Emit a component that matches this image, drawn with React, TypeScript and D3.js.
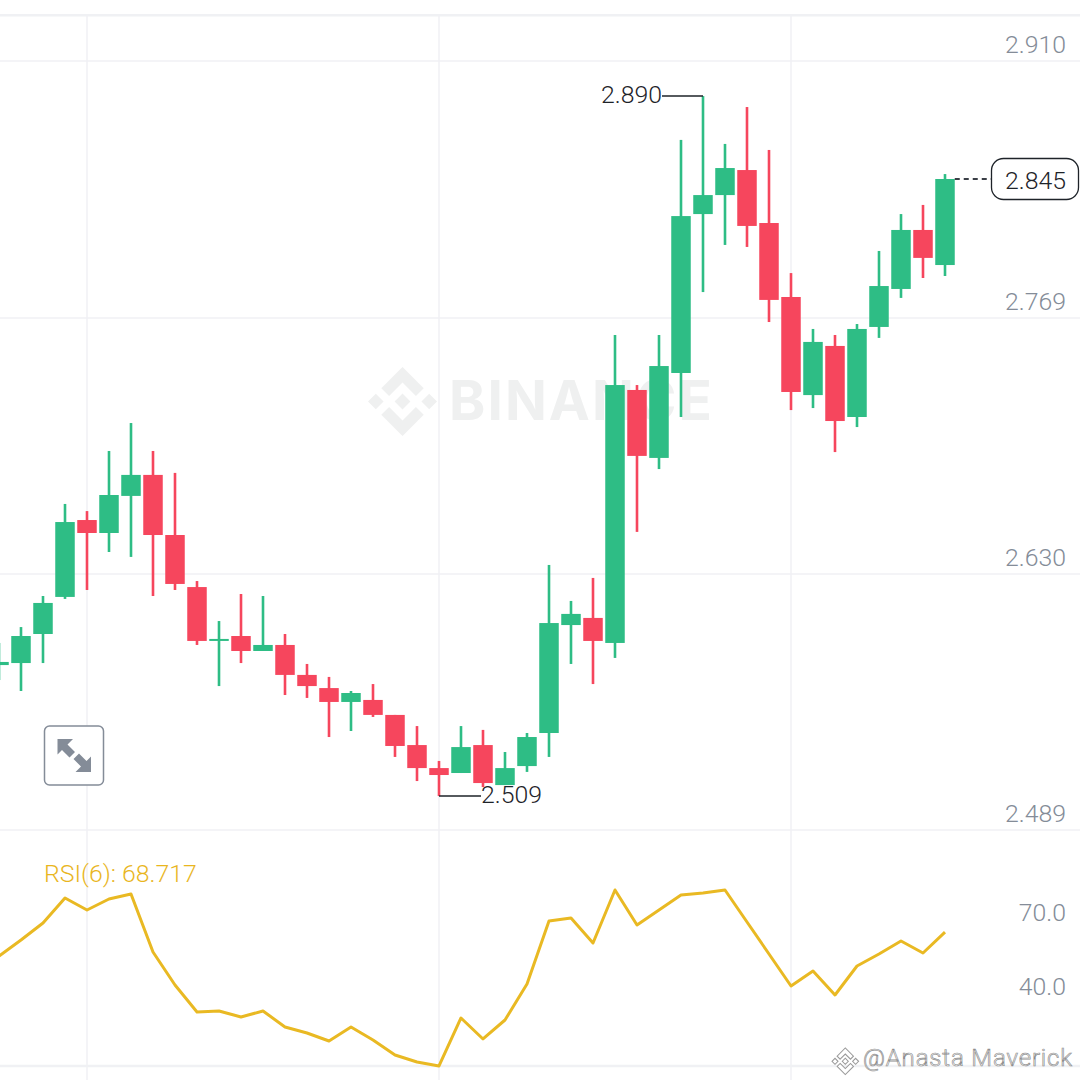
import * as d3 from 'd3';

// candles
const opens = [
  2.5793, 2.5804, 2.5963, 2.6166, 2.6587, 2.6516, 2.6719, 2.6834, 2.6505, 2.622,
  2.5925, 2.5952, 2.587, 2.5903, 2.5739, 2.5667, 2.5591, 2.5602, 2.552, 2.5355,
  2.5229, 2.5202, 2.5355, 2.5136, 2.524, 2.5421, 2.6012, 2.6051, 2.5914, 2.7299,
  2.6927, 2.7392, 2.8262, 2.8366, 2.8503, 2.8213, 2.7808, 2.7271, 2.754, 2.7151,
  2.7644, 2.7852, 2.8175, 2.7983,
];
const closes = [
  2.581, 2.5952, 2.6133, 2.6576, 2.6516, 2.6724, 2.6834, 2.6505, 2.6237, 2.5925,
  2.5936, 2.587, 2.5903, 2.5739, 2.5678, 2.5591, 2.564, 2.552, 2.535, 2.5229,
  2.5191, 2.5344, 2.5147, 2.5229, 2.5399, 2.6023, 2.6073, 2.5925, 2.7326, 2.6938,
  2.743, 2.8251, 2.8366, 2.8514, 2.8197, 2.7792, 2.7288, 2.7562, 2.7129, 2.7633,
  2.7868, 2.8175, 2.8022, 2.8454,
];
const highs = [
  2.5914, 2.6001, 2.6171, 2.6675, 2.6636, 2.6965, 2.7118, 2.6965, 2.6845, 2.6253,
  2.6034, 2.6182, 2.6171, 2.5963, 2.5799, 2.5728, 2.5651, 2.5689, 2.552, 2.5459,
  2.5268, 2.5459, 2.5438, 2.5317, 2.5421, 2.6341, 2.6144, 2.627, 2.76, 2.7326,
  2.76, 2.8668, 2.8908, 2.8646, 2.8848, 2.8613, 2.7939, 2.7633, 2.76, 2.766,
  2.806, 2.8262, 2.8312, 2.8481,
];
const lows = [
  2.5711, 2.5651, 2.5804, 2.6155, 2.6204, 2.6412, 2.6385, 2.6171, 2.6204, 2.5903,
  2.5678, 2.5804, 2.587, 2.5629, 2.5613, 2.5399, 2.5432, 2.5509, 2.529, 2.5158,
  2.5076, 2.5202, 2.5125, 2.5136, 2.5208, 2.529, 2.5799, 2.5689, 2.5832, 2.6522,
  2.6866, 2.7151, 2.7835, 2.8093, 2.8082, 2.7671, 2.7189, 2.72, 2.6959, 2.7096,
  2.7584, 2.7803, 2.7912, 2.7923,
];
const rsi = [
  59.05, 65.54, 72.43, 82.57, 77.7, 82.16, 84.19, 60.68, 47.3, 36.35,
  36.76, 34.32, 36.76, 30.27, 27.84, 24.6, 30.27, 25.0, 18.92, 16.08,
  14.46, 33.92, 25.41, 33.11, 47.7, 73.24, 74.46, 64.32, 85.81, 71.62,
  77.7, 83.78, 84.6, 85.81, 72.84, 59.87, 46.89, 52.97, 43.24, 55.0,
  59.87, 65.14, 60.27, 68.717,
];

const priceTicks = [2.91, 2.7693, 2.6292, 2.489];
const priceLabels = ['2.910', '2.769', '2.630', '2.489'];
const rsiTicks = [70, 40];
const rsiLabels = ['70.0', '40.0'];
const timeGridIndex = [4, 20, 36];

const GREEN = '#2ebd85';
const RED = '#f6465d';
const YELLOW = '#e9b923';
const GRID = '#f0f1f4';
const LABEL = '#848c98';
const DARK = '#1e2329';
const FONT = 'Roboto, sans-serif';
const FONT_SIZE = 24.8;

// binance mark, 126.61 units square
const LOGO = [
  'M38.73 53.2l24.59-24.58 24.6 24.6 14.3-14.31L63.32 0 24.43 38.9l14.3 14.3z',
  'M0 63.31l14.3-14.31 14.31 14.31-14.31 14.3z',
  'M38.73 73.41l24.59 24.59 24.6-24.6 14.31 14.29-38.9 38.91-38.91-38.88-.02-.02 14.33-14.29z',
  'M98 63.31l14.3-14.31 14.31 14.3-14.31 14.32z',
  'M77.83 63.3L63.32 48.78 52.59 59.51l-1.24 1.23-2.54 2.54 14.51 14.5 14.51-14.47z',
];

const ARROW = 'M57.5,739H73L67.5,744.5L75,752L69.5,757.5L62,750L57.5,754.5Z';

export default function App() {
  const x = d3.scaleLinear().domain([0, opens.length - 1]).range([-1, 945]);
  const y = d3.scaleLinear().domain([2.489, 2.91]).range([830, 61]);
  const yRsi = d3.scaleLinear().domain([40, 70]).range([1003, 929]);

  const bodyWidth = 19.5;
  const wickWidth = 2.6;
  const rsiLine = d3.line<number>().x((_, i) => x(i)).y(d => yRsi(d));

  const lastIndex = opens.length - 1;
  const highIndex = highs.indexOf(d3.max(highs)!);
  const lowIndex = lows.indexOf(d3.min(lows)!);
  const lastY = y(closes[lastIndex]);

  return (
    <svg
      width={1080}
      height={1080}
      viewBox="0 0 1080 1080"
      style={{ position: 'fixed', left: 0, top: 0, background: '#fff', fontFamily: FONT, fontWeight: 300 }}
    >
      <rect x={0} y={14} width={1080} height={2.5} fill={GRID} />

      {timeGridIndex.map(i => (
        <line key={i} x1={x(i)} x2={x(i)} y1={16} y2={1080} stroke={GRID} strokeWidth={1.5} />
      ))}
      {priceTicks.map(t => (
        <line key={t} x1={0} x2={1080} y1={y(t)} y2={y(t)} stroke={GRID} strokeWidth={1.5} />
      ))}
      <line x1={0} x2={1080} y1={1066} y2={1066} stroke={GRID} strokeWidth={2.5} />

      {/* watermark */}
      <g transform="translate(368,367) scale(0.545)" fill="#eff0f0">
        {LOGO.map(d => <path key={d} d={d} />)}
      </g>
      <text x={449} y={420} fontSize={55} fontWeight={700} fill="#eff0f0" textLength={263} fontFamily="Inter, Roboto, sans-serif">BINANCE</text>

      {/* candles */}
      {opens.map((o, i) => {
        const c = closes[i];
        const color = c >= o ? GREEN : RED;
        const top = y(Math.max(o, c));
        const bottom = y(Math.min(o, c));
        return (
          <g key={i} fill={color}>
            <rect x={x(i) - wickWidth / 2} y={y(highs[i])} width={wickWidth} height={y(lows[i]) - y(highs[i])} />
            <rect x={x(i) - bodyWidth / 2} y={top} width={bodyWidth} height={Math.max(bottom - top, 1.5)} />
          </g>
        );
      })}

      {priceLabels.map((label, i) => (
        <text key={label} x={1066} y={y(priceTicks[i]) - 8} fontSize={FONT_SIZE} textAnchor="end" fill={LABEL}>{label}</text>
      ))}
      {rsiLabels.map((label, i) => (
        <text key={label} x={1066} y={yRsi(rsiTicks[i]) - 8} fontSize={FONT_SIZE} textAnchor="end" fill={LABEL}>{label}</text>
      ))}

      {/* high / low markers */}
      <path d={`M${x(highIndex)},${y(highs[highIndex])}H662`} stroke={DARK} strokeWidth={1.5} fill="none" />
      <text x={662} y={103} fontSize={FONT_SIZE} textAnchor="end" fill={DARK}>2.890</text>
      <path d={`M${x(lowIndex)},${y(lows[lowIndex])}H481`} stroke={DARK} strokeWidth={1.5} fill="none" />
      <text x={481} y={803} fontSize={FONT_SIZE} fill={DARK}>2.509</text>

      {/* last price */}
      <line x1={x(lastIndex) + bodyWidth / 2} x2={991} y1={lastY} y2={lastY} stroke="#3a3f46" strokeWidth={1.8} strokeDasharray="5 4" />
      <rect x={991.5} y={158.5} width={87} height={41} rx={12} fill="#fff" stroke={DARK} strokeWidth={1.3} />
      <text x={1066} y={189} fontSize={FONT_SIZE} textAnchor="end" fill={DARK}>2.845</text>

      {/* expand button */}
      <rect x={44.5} y={726} width={59} height={59} rx={5} fill="#fff" stroke={LABEL} strokeWidth={1.5} />
      <g fill={LABEL}>
        <path d={ARROW} />
        <path d={ARROW} transform="rotate(180 74.25 755.5)" />
      </g>

      {/* rsi */}
      <path d={rsiLine(rsi)!} fill="none" stroke={YELLOW} strokeWidth={3} strokeLinejoin="round" />
      <text x={44} y={882} fontSize={FONT_SIZE} fill="#e9b61f">RSI(6): 68.717</text>

      {/* author mark */}
      <g transform="translate(832,1048) scale(0.21)" fill="#fff" stroke="#9a9a9a" strokeWidth={5}>
        {LOGO.map(d => <path key={d} d={d} />)}
      </g>
      <text x={863} y={1066} fontSize={24} fill="#fff" stroke="#8f8f8f" strokeWidth={0.7} textLength={209}>@Anasta Maverick</text>
    </svg>
  );
}
